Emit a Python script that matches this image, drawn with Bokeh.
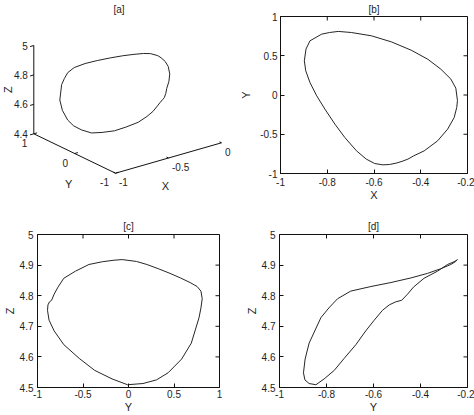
import numpy as np
from bokeh.plotting import figure
from bokeh.layouts import column, row
from bokeh.models import Range1d, FixedTicker, ColumnDataSource
from bokeh.embed import file_html
from bokeh.resources import INLINE
from bokeh.core.properties import value

# ---------------- data: closed trajectory (limit cycle) ----------------
traj_x = [-0.243, -0.250, -0.271, -0.314, -0.370, -0.441, -0.526, -0.611, -0.697,
          -0.753, -0.790, -0.824, -0.874, -0.891, -0.898, -0.892, -0.874, -0.845,
          -0.810, -0.767, -0.725, -0.675, -0.633, -0.597, -0.562, -0.533, -0.505,
          -0.480, -0.455, -0.430, -0.385, -0.328, -0.285, -0.257, -0.246]
traj_y = [-0.070, 0.087, 0.202, 0.329, 0.456, 0.571, 0.677, 0.754, 0.796,
          0.810, 0.796, 0.775, 0.690, 0.584, 0.435, 0.308, 0.159, -0.011,
          -0.180, -0.372, -0.541, -0.711, -0.817, -0.873, -0.890, -0.885, -0.868,
          -0.845, -0.817, -0.775, -0.711, -0.584, -0.435, -0.287, -0.159]
traj_z = [4.918, 4.912, 4.902, 4.888, 4.873, 4.858, 4.843, 4.830, 4.815,
          4.790, 4.760, 4.728, 4.645, 4.593, 4.548, 4.525, 4.513, 4.509,
          4.528, 4.556, 4.595, 4.640, 4.685, 4.720, 4.752, 4.770, 4.780,
          4.785, 4.805, 4.828, 4.857, 4.880, 4.902, 4.911, 4.916]

titles = ["[a]", "[b]", "[c]", "[d]"]

# 3-D panel axes
a_xlim = [-1, 0]
a_ylim = [-1, 1]
a_zlim = [4.4, 5]
a_xticks = [-1, -0.5, 0]
a_xlabels = ["-1", "-0.5", "0"]
a_yticks = [-1, 0, 1]
a_ylabels = ["-1", "0", "1"]
a_zticks = [4.4, 4.6, 4.8, 5]
a_zlabels = ["4.4", "4.6", "4.8", "5"]

# 2-D panels
x_lim = [-1, -0.2]
x_ticks = [-1, -0.8, -0.6, -0.4, -0.2]
x_labels = ["-1", "-0.8", "-0.6", "-0.4", "-0.2"]
y_lim = [-1, 1]
y_ticks = [-1, -0.5, 0, 0.5, 1]
y_labels = ["-1", "-0.5", "0", "0.5", "1"]
z_lim = [4.5, 5]
z_ticks = [4.5, 4.6, 4.7, 4.8, 4.9, 5]
z_labels = ["4.5", "4.6", "4.7", "4.8", "4.9", "5"]

# ---------------- style ----------------
FONT = "Liberation Sans"
TXT = "#1e1e1e"
CURVE = "#262626"
AX = "#111111"

src = ColumnDataSource(dict(x=traj_x + traj_x[:1], y=traj_y + traj_y[:1], z=traj_z + traj_z[:1]))


def style_title(p, standoff, offset=0):
    p.title.text_font = FONT
    p.title.text_font_size = "10px"
    p.title.text_font_style = "normal"
    p.title.text_color = TXT
    p.title.align = "center"
    p.title.standoff = standoff
    p.title.offset = offset


def panel(xcol, ycol, xr, xt, xl, yr, yt, yl, xlab, ylab, title, h, borders,
          title_standoff, xl_standoff, xlab_standoff, yl_standoff, ylab_standoff):
    L, R, T, B = borders
    p = figure(width=237, height=h, x_range=Range1d(*xr), y_range=Range1d(*yr),
               output_backend="svg", toolbar_location=None, title=title,
               min_border_left=L, min_border_right=R, min_border_top=T, min_border_bottom=B)
    p.line(xcol, ycol, source=src, line_color=CURVE, line_width=1)
    p.grid.visible = False
    p.outline_line_color = AX
    p.outline_line_alpha = 1
    p.background_fill_color = "white"
    p.border_fill_color = "white"
    style_title(p, title_standoff)
    p.xaxis.ticker = FixedTicker(ticks=xt)
    p.xaxis.major_label_overrides = dict(zip(xt, xl))
    p.yaxis.ticker = FixedTicker(ticks=yt)
    p.yaxis.major_label_overrides = dict(zip(yt, yl))
    p.xaxis.axis_label = xlab
    p.yaxis.axis_label = ylab
    p.xaxis.major_label_standoff = xl_standoff
    p.xaxis.axis_label_standoff = xlab_standoff
    p.yaxis.major_label_standoff = yl_standoff
    p.yaxis.axis_label_standoff = ylab_standoff
    for ax in p.xaxis + p.yaxis:
        ax.major_tick_in = 4
        ax.major_tick_out = 0
        ax.minor_tick_line_color = None
        ax.axis_line_color = AX
        ax.major_tick_line_color = AX
        ax.major_label_text_font = FONT
        ax.major_label_text_font_size = "10px"
        ax.major_label_text_color = TXT
        ax.axis_label_text_font = FONT
        ax.axis_label_text_font_size = "11px"
        ax.axis_label_text_font_style = "normal"
        ax.axis_label_text_color = TXT
    # inward ticks on the top and right edges of the box
    p.ray(x=xt, y=[yr[1]] * len(xt), length=4, length_units="screen",
          angle=-np.pi / 2, line_color=AX, line_width=1)
    p.ray(x=[xr[1]] * len(yt), y=yt, length=4, length_units="screen",
          angle=np.pi, line_color=AX, line_width=1)
    return p


# ---------------- panel [a]: 3-D view (orthographic projection) ----------------
A_ORIGIN = (115.0, 172.7)   # screen position of the (xmin, ymin, zmin) corner
A_EX = (106.0, -30.4)       # screen extent of full x range
A_EY = (-81.7, -39.4)       # screen extent of full y range
A_EZ = (0.0, -88.3)         # screen extent of full z range


def proj(x, y, z):
    fx = (np.asarray(x, float) - a_xlim[0]) / (a_xlim[1] - a_xlim[0])
    fy = (np.asarray(y, float) - a_ylim[0]) / (a_ylim[1] - a_ylim[0])
    fz = (np.asarray(z, float) - a_zlim[0]) / (a_zlim[1] - a_zlim[0])
    sx = A_ORIGIN[0] + fx * A_EX[0] + fy * A_EY[0] + fz * A_EZ[0]
    sy = A_ORIGIN[1] + fx * A_EX[1] + fy * A_EY[1] + fz * A_EZ[1]
    return sx, sy


# frame spans pixel rows 16..173 (same as panel [b]); one data unit = one pixel
pa = figure(width=237, height=207, x_range=Range1d(0, 237), y_range=Range1d(173, 16),
            x_axis_type=None, y_axis_type=None,
            output_backend="svg", toolbar_location=None, title=titles[0],
            min_border_left=0, min_border_right=0, min_border_top=16, min_border_bottom=34)
pa.grid.visible = False
pa.outline_line_color = None
pa.background_fill_color = "white"
pa.border_fill_color = "white"
style_title(pa, 3, offset=7)

LVL = "overlay"  # drawn without clipping to the frame

# curve
cx, cy = proj(src.data["x"], src.data["y"], src.data["z"])
pa.line(cx, cy, line_color=CURVE, line_width=1, level=LVL)

# axis lines: z axis at (xmin, ymax), y axis along (xmin, zmin), x axis along (ymin, zmin)
zx, zy = proj([a_xlim[0]] * 2, [a_ylim[1]] * 2, a_zlim)
yx, yy = proj([a_xlim[0]] * 2, [a_ylim[1], a_ylim[0]], [a_zlim[0]] * 2)
xx, xy = proj(a_xlim, [a_ylim[0]] * 2, [a_zlim[0]] * 2)
for lx, ly in ((zx, zy), (yx, yy), (xx, xy)):
    pa.line(lx, ly, line_color=AX, line_width=1, level=LVL)

# ticks
n = len(a_zticks)
t0x, t0y = proj([a_xlim[0]] * n, [a_ylim[1]] * n, a_zticks)
t1x, t1y = proj([a_xlim[0] - 0.035] * n, [a_ylim[1]] * n, a_zticks)
pa.segment(t0x, t0y, t1x, t1y, line_color=AX, level=LVL)
n = len(a_yticks)
t0x, t0y = proj([a_xlim[0]] * n, a_yticks, [a_zlim[0]] * n)
t1x, t1y = proj([a_xlim[0] + 0.03] * n, a_yticks, [a_zlim[0]] * n)
pa.segment(t0x, t0y, t1x, t1y, line_color=AX, level=LVL)
n = len(a_xticks)
t0x, t0y = proj(a_xticks, [a_ylim[0]] * n, [a_zlim[0]] * n)
t1x, t1y = proj(a_xticks, [a_ylim[0] + 0.05] * n, [a_zlim[0]] * n)
pa.segment(t0x, t0y, t1x, t1y, line_color=AX, level=LVL)

tfont = dict(text_font=value(FONT), text_font_size=value("10px"), text_color=TXT, level=LVL)
# tick labels
zx_, zy_ = proj([a_xlim[0]] * len(a_zticks), [a_ylim[1]] * len(a_zticks), a_zticks)
pa.text(zx_ - 6, zy_, text=a_zlabels, text_align="right", text_baseline="middle", **tfont)
yx_, yy_ = proj([a_xlim[0]] * len(a_yticks), a_yticks, [a_zlim[0]] * len(a_yticks))
pa.text(yx_ - 6.5, yy_ + 9, text=a_ylabels, text_align="right", text_baseline="middle", **tfont)
xx_, xy_ = proj(a_xticks, [a_ylim[0]] * len(a_xticks), [a_zlim[0]] * len(a_xticks))
pa.text(xx_ + 3.5, xy_ + 9, text=a_xlabels, text_align="left", text_baseline="middle", **tfont)

# axis labels
lfont = dict(text_font=value(FONT), text_font_size=value("11px"), text_color=TXT, level=LVL)
mzx, mzy = proj([a_xlim[0]], [a_ylim[1]], [np.mean(a_zlim)])
pa.text(mzx - 26, mzy, text=["Z"], angle=np.pi / 2, text_align="center", text_baseline="middle", **lfont)
myx, myy = proj([a_xlim[0]], [np.mean(a_ylim)], [a_zlim[0]])
pa.text(myx - 6, myy + 30, text=["Y"], text_align="center", text_baseline="middle", **lfont)
mxx, mxy = proj([np.mean(a_xlim)], [a_ylim[0]], [a_zlim[0]])
pa.text(mxx - 3, mxy + 27.5, text=["X"], text_align="center", text_baseline="middle", **lfont)

# ---------------- panels [b], [c], [d] ----------------
pb = panel("x", "y", x_lim, x_ticks, x_labels, y_lim, y_ticks, y_labels, "X", "Y", titles[1],
           207, (42, 7, 16, 34), 3, 4, 0, 3, 5)
pc = panel("y", "z", y_lim, y_ticks, y_labels, z_lim, z_ticks, z_labels, "Y", "Z", titles[2],
           208, (33, 18, 27, 25), 6, 2, 0, 4, 1)
pd = panel("x", "z", x_lim, x_ticks, x_labels, z_lim, z_ticks, z_labels, "Y", "Z", titles[3],
           208, (42, 7, 27, 25), 6, 2, 0, 4, 1)

layout = column(row(pa, pb, spacing=0), row(pc, pd, spacing=0), spacing=0)

open("out.html", "w").write(file_html(layout, INLINE))
